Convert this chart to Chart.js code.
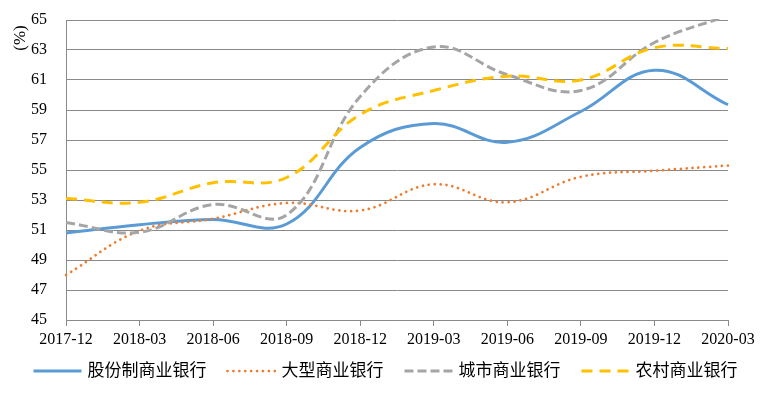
<!DOCTYPE html>
<html><head><meta charset="utf-8">
<script src="https://cdn.jsdelivr.net/npm/chart.js@4/dist/chart.umd.min.js"></script>
<style>html,body{margin:0;padding:0;background:#fff}#wrap{width:766px;height:399px}</style>
</head><body><div id="wrap"><canvas id="c" width="766" height="399"></canvas></div>
<script>
const categories = ['2017-12','2018-03','2018-06','2018-09','2018-12','2019-03','2019-06','2019-09','2019-12','2020-03'];
const seriesNames = ['股份制商业银行','大型商业银行','城市商业银行','农村商业银行'];
const jointStockBanks = [50.8, 51.35, 51.7, 51.4, 56.5, 58.1, 56.85, 58.9, 61.65, 59.35];
const largeBanks      = [48.0, 50.95, 51.75, 52.8, 52.3, 54.05, 52.85, 54.55, 54.95, 55.3];
const cityBanks       = [51.5, 50.85, 52.7, 52.0, 59.9, 63.2, 61.35, 60.3, 63.5, 65.3];
const ruralBanks      = [53.1, 52.85, 54.15, 54.5, 58.7, 60.3, 61.25, 61.0, 63.15, 63.1];
const yMin = 45, yMax = 65, yStep = 2;
const unitText = '(%)';

const gridColor = '#8a8a8a';
const unitLabel = {
  id: 'unitLabel',
  afterDraw(chart) {
    const c = chart.ctx;
    c.save();
    c.translate(21, 38);
    c.rotate(-Math.PI / 2);
    c.font = '17px "Liberation Serif"';
    c.fillStyle = '#000';
    c.textAlign = 'center';
    c.textBaseline = 'middle';
    c.fillText(unitText, 0, 0);
    c.restore();
  }
};

const lineLegend = {
  id: 'lineLegend',
  afterDraw(chart) {
    const c = chart.ctx;
    const ds = chart.data.datasets;
    const lineW = 48, gap = 6, spacing = 21, y = 370;
    c.save();
    c.font = '17px "Noto Sans CJK SC"';
    const widths = ds.map(d => c.measureText(d.label).width);
    const total = widths.reduce((a, w) => a + w + lineW + gap, 0) + spacing * (ds.length - 1);
    let x = 385.5 - total / 2;
    ds.forEach((d, i) => {
      c.beginPath();
      c.strokeStyle = d.borderColor;
      c.lineWidth = d.borderWidth;
      c.setLineDash(d.borderDash || []);
      c.lineCap = d.borderCapStyle || 'butt';
      c.moveTo(x, y + 1);
      c.lineTo(x + lineW, y + 1);
      c.stroke();
      c.setLineDash([]);
      c.fillStyle = '#000';
      c.textAlign = 'left';
      c.textBaseline = 'middle';
      c.fillText(d.label, x + lineW + gap, y);
      x += lineW + gap + widths[i] + spacing;
    });
    c.restore();
  }
};

new Chart(document.getElementById('c'), {
  type: 'line',
  data: {
    labels: categories,
    datasets: [
      { label: seriesNames[0], data: jointStockBanks, borderColor: '#5B9BD5', backgroundColor: '#5B9BD5', borderWidth: 3, order: 3 },
      { label: seriesNames[1], data: largeBanks, borderColor: '#ED7D31', backgroundColor: '#ED7D31', borderWidth: 2.75, borderDash: [0.01, 5.9], borderCapStyle: 'round', order: 2 },
      { label: seriesNames[2], data: cityBanks, borderColor: '#A5A5A5', backgroundColor: '#A5A5A5', borderWidth: 3, borderDash: [9, 4], order: 1, clip: 1 },
      { label: seriesNames[3], data: ruralBanks, borderColor: '#FFC000', backgroundColor: '#FFC000', borderWidth: 3, borderDash: [11, 7], order: 0 }
    ]
  },
  options: {
    responsive: false,
    animation: false,
    layout: { padding: { left: 0, right: 38, top: 20, bottom: 43 } },
    elements: { point: { radius: 0, hoverRadius: 0 }, line: { tension: 0.4, fill: false } },
    scales: {
      x: {
        offset: false,
        grid: { drawOnChartArea: false, drawTicks: true, tickLength: 6, color: gridColor },
        border: { color: gridColor },
        ticks: { font: { family: 'Liberation Serif', size: 16 }, color: '#000', maxRotation: 0, autoSkip: false, padding: 4 },
        afterFit(s) { s.height = 36; }
      },
      y: {
        min: yMin, max: yMax,
        grid: { color: gridColor, drawTicks: false },
        border: { color: gridColor },
        ticks: { stepSize: yStep, font: { family: 'Liberation Serif', size: 16 }, color: '#000', padding: 19 },
        afterFit(s) { s.width = 66; s.paddingTop = 0; s.paddingBottom = 0; }
      }
    },
    plugins: {
      legend: { display: false },
      tooltip: { enabled: false }
    }
  },
  plugins: [unitLabel, lineLegend]
});
</script></body></html>
